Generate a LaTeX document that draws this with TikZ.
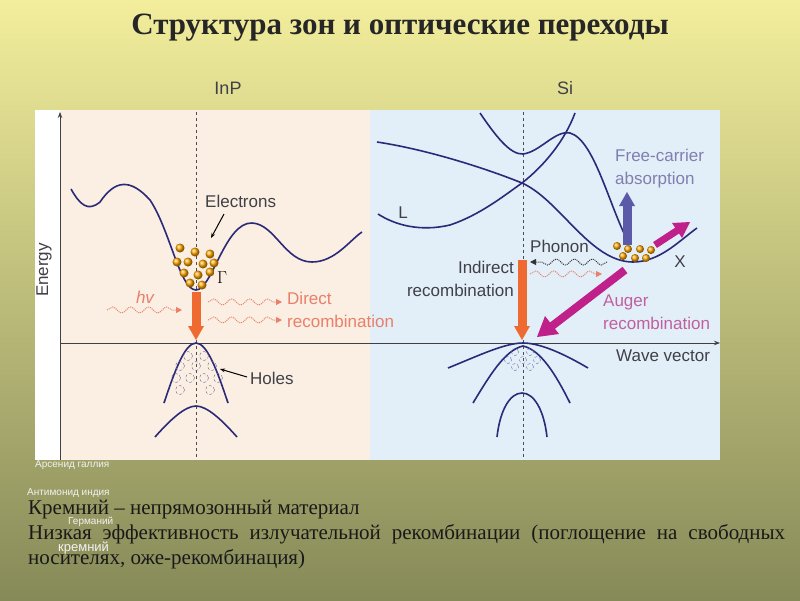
\documentclass[tikz,border=0pt]{standalone}
\usepackage{fontspec}
\setmainfont{Liberation Serif}
\newfontfamily\lsans{Liberation Sans}
\usetikzlibrary{decorations.pathmorphing,arrows.meta}
\definecolor{bgtop}{HTML}{F2EE9C}
\definecolor{bgbot}{HTML}{868A58}
\definecolor{peach}{HTML}{FBEEE2}
\definecolor{skyb}{HTML}{E2EEF8}
\definecolor{band}{HTML}{2A2A78}
\definecolor{orng}{HTML}{EE6A30}
\definecolor{lorng}{HTML}{E8806A}
\definecolor{mag}{HTML}{C0208A}
\definecolor{lmag}{HTML}{C060A0}
\definecolor{vio}{HTML}{5A5AA8}
\definecolor{lvio}{HTML}{8080B0}
\definecolor{txt}{HTML}{404048}
\begin{document}
\begin{tikzpicture}[x=1pt,y=-1pt,
  bandl/.style={band,line width=1.6pt},
  lab/.style={font=\lsans\fontsize{17}{19}\selectfont,text=txt,inner sep=0pt},
  lab2/.style={lab,align=left,font=\lsans\fontsize{17}{23}\selectfont},
  wav/.style={densely dotted,line width=1pt,decorate,decoration={snake,amplitude=3pt,segment length=18pt,post length=5pt},-{Triangle[length=6pt,width=6pt]}},
  ball/.style={ball color=orange!70!yellow,circle,inner sep=0pt,minimum size=9pt},
  hole/.style={draw=band!70,densely dashed,circle,inner sep=0pt,minimum size=9pt,thin},
  small/.style={font=\lsans\fontsize{10}{12}\selectfont,text=white!90!gray,anchor=west,inner sep=0pt}]
\useasboundingbox (0,0) rectangle (800,600);
\shade[top color=bgtop,bottom color=bgbot] (0,0) rectangle (800,600);
\node[font=\bfseries\fontsize{31}{34}\selectfont,text=black!85] (title) at (400,28) {Структура зон и оптические переходы};
\node[lab,font=\lsans\fontsize{18}{20}\selectfont] (inp) at (228,88) {InP};
\node[lab,font=\lsans\fontsize{18}{20}\selectfont] (si) at (565,88) {Si};
\fill[white] (35,110) rectangle (60,460);
\fill[peach] (60,110) rectangle (370,460);
\fill[skyb] (370,110) rectangle (720,460);
\draw[black!75,line width=0.8pt,-{Stealth[length=6pt]}] (60,460) -- (60,112);
\draw[black!75,line width=0.8pt,-{Stealth[length=6pt]}] (60,343) -- (720,343);
\node[lab,rotate=90] (energy) at (44,270) {Energy};
\node[lab,anchor=west] (wv) at (616,356) {Wave vector};
\draw[black!70,dashed,line width=0.9pt] (196,112) -- (196,460);
\draw[black!70,dashed,line width=0.9pt] (523,112) -- (523,460);
\draw[bandl] (71,189) .. controls (80,205) and (88,212) .. (100,202) .. controls (115,180) and (130,178) .. (150,200)
  .. controls (170,230) and (180,290) .. (196,290) .. controls (212,290) and (225,222) .. (252,223)
  .. controls (275,224) and (285,262) .. (312,262) .. controls (335,262) and (350,240) .. (362,232);
\draw[bandl] (164,403) .. controls (175,370) and (185,343) .. (196,343) .. controls (207,343) and (217,370) .. (228,403);
\draw[bandl] (155,437) .. controls (170,420) and (185,406) .. (196,406) .. controls (207,406) and (222,420) .. (237,437);
\foreach \p in {(180,248),(195,252),(210,254),(177,262),(188,262),(203,264),(214,263),(184,273),(198,275),(210,272),(190,283),(202,285)}
  \node[ball] at \p {};
\node[lab,anchor=west] (el) at (205,201) {Electrons};
\coordinate (elt) at (211,238);
\draw[black,line width=1pt,-{Stealth[length=5pt]}] (224,214) -- (elt);
\node[font=\fontsize{18}{20}\selectfont] (gam) at (222,278) {$\Gamma$};
\foreach \p in {(188,356),(204,356),(180,366),(196,366),(212,366),(176,378),(190,378),(204,378),(218,378),(180,390),(210,390)}
  \node[hole] at \p {};
\node[lab,anchor=west] (holes) at (250,378) {Holes};
\coordinate (ht) at (220,369);
\draw[black,line width=1pt,-{Stealth[length=5pt]}] (247,377) -- (ht);
\draw[orng,line width=9pt] (196,292) -- (196,328);
\fill[orng] (188,326) -- (204,326) -- (196,340) -- cycle;
\node[font=\lsans\itshape\fontsize{17}{19}\selectfont,text=lorng] (hv) at (145,297) {hv};
\draw[lorng,wav] (107,310) -- (182,310);
\draw[lorng,wav] (208,302) -- (282,302);
\draw[lorng,wav] (208,320) -- (282,320);
\node[lab2,anchor=west,text=lorng] (dr) at (287,310) {Direct\\recombination};
\draw[bandl] (377,142) .. controls (430,150) and (490,170) .. (522,183) .. controls (560,200) and (590,262) .. (633,262) .. controls (660,262) and (680,240) .. (697,228);
\draw[bandl] (378,214) .. controls (395,225) and (420,232) .. (450,225) .. controls (480,215) and (505,195) .. (522,183) .. controls (545,165) and (565,140) .. (575,113);
\draw[bandl] (480,113) .. controls (495,135) and (510,155) .. (523,154) .. controls (540,152) and (555,130) .. (570,133) .. controls (595,140) and (610,210) .. (630,245);
\draw[bandl] (448,368) .. controls (480,355) and (505,343) .. (523,343) .. controls (541,343) and (566,355) .. (588,368);
\draw[bandl] (473,403) .. controls (490,375) and (505,350) .. (523,346) .. controls (541,350) and (556,375) .. (570,403);
\draw[bandl] (497,437) .. controls (500,410) and (510,393) .. (522,393) .. controls (534,393) and (544,410) .. (547,437);
\node[lab] (L) at (403,213) {L};
\node[lab] (X) at (680,262) {X};
\foreach \p in {(617,246),(628,249),(640,249),(651,250),(623,256),(635,258),(646,258)}
  \node[ball,minimum size=8pt] at \p {};
\foreach \p in {(515,352),(530,352),(508,360),(523,360),(537,360),(515,367),(530,367)}
  \node[hole,minimum size=7pt] at \p {};
\draw[orng,line width=9pt] (522,260) -- (522,328);
\fill[orng] (514,326) -- (530,326) -- (522,340) -- cycle;
\node[lab2,anchor=east,align=right] (ir) at (514,279) {Indirect\\recombination};
\node[lab2,anchor=west] (ph) at (530,246) {Phonon};
\draw[black!80,wav] (607,262) -- (530,262);
\draw[lorng,wav] (530,274) -- (602,274);
\draw[vio,line width=9pt] (627,245) -- (627,205);
\fill[vio] (619,206) -- (635,206) -- (627,192) -- cycle;
\node[lab2,anchor=west,text=lvio] (fca) at (615,169) {Free-carrier\\absorption};
\draw[mag,line width=8pt] (625,270) -- (552,326);
\fill[mag] (537,337) -- (545,316) -- (559,334) -- cycle;
\draw[mag,line width=7pt] (655,245) -- (678,230);
\fill[mag] (690,222) -- (672,223) -- (682,238) -- cycle;
\node[lab2,anchor=west,text=lmag] (aug) at (603,312) {Auger\\recombination};
\node[small] (ga) at (35,465) {Арсенид галлия};
\node[small] (ai) at (27,493) {Антимонид индия};
\node[small] (ge) at (68,522) {Германий};
\node[small,font=\lsans\fontsize{13}{14}\selectfont] (kr) at (58,548) {кремний};
\node[anchor=north west,inner sep=0pt,text width=757pt,align=justify,font=\fontsize{21}{25}\selectfont,text=black!90] (body) at (28,500)
 {Кремний – непрямозонный материал\\Низкая эффективность излучательной рекомбинации (поглощение на свободных\linebreak носителях, оже-рекомбинация)};
\end{tikzpicture}
\end{document}
